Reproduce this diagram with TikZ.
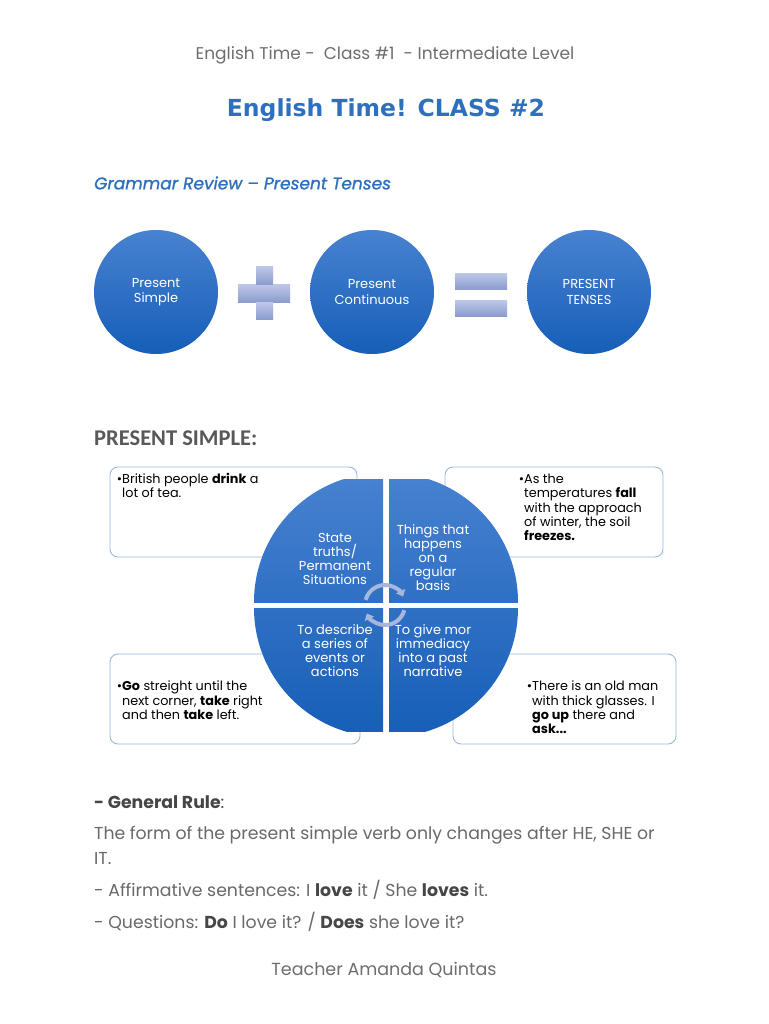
\documentclass[tikz,border=0pt]{standalone}
\usepackage{fontspec}
\setmainfont{Poppins}
\newfontfamily\titlefont{DejaVu Sans}
\newfontfamily\calib{Carlito}
\newfontfamily\subfont{Poppins}[FakeBold=1.2]
\usetikzlibrary{arrows.meta}
\definecolor{hdrgray}{RGB}{110,110,110}
\definecolor{titleblue}{RGB}{46,112,190}
\definecolor{circtop}{RGB}{72,130,208}
\definecolor{circbot}{RGB}{22,94,184}
\definecolor{signtop}{RGB}{190,200,232}
\definecolor{signbot}{RGB}{140,156,206}
\definecolor{boxblue}{RGB}{150,185,228}
\definecolor{arcblue}{RGB}{168,182,220}
\definecolor{bodygray}{RGB}{105,105,105}
\definecolor{darkgray}{RGB}{70,70,70}
\definecolor{headgray}{RGB}{89,89,89}
\tikzset{
  bigcirc/.style={circle, minimum size=124pt, inner sep=0pt, top color=circtop, bottom color=circbot, text=white, align=center, font=\fontsize{13}{15.5}\selectfont},
  signbar/.style={top color=signtop, bottom color=signbot, draw=none},
  exbox/.style={draw=boxblue, line width=0.9pt, rounded corners=8pt, fill=white},
  extext/.style={anchor=north west, inner sep=0pt, align=left, font=\fontsize{12.8}{14.3}\selectfont, text=black},
  quadtext/.style={inner sep=0pt, align=center, text=white, font=\fontsize{13}{14}\selectfont},
  cyclearc/.style={draw=arcblue, line width=4pt, -{Triangle[width=10pt,length=6pt]}},
  bodytext/.style={anchor=base west, inner sep=0pt, text=bodygray, font=\fontsize{17.3}{20}\selectfont},
}
\begin{document}
\begin{tikzpicture}[x=1pt,y=-1pt]
\useasboundingbox (0,0) rectangle (768,1024);
\fill[white] (0,0) rectangle (768,1024);

% header and titles
\node[text=hdrgray, font=\fontsize{17}{20}\selectfont] (hdr) at (385,55) {English Time -\ \ Class \#1\ \ - Intermediate Level};
\node[text=titleblue, font=\titlefont\bfseries\fontsize{23.5}{28}\selectfont] (title) at (386,110) {English Time! CLASS \#2};
\node[anchor=west, inner sep=0pt, text=titleblue, font=\subfont\itshape\fontsize{17}{20}\selectfont] (sub) at (94,183) {Grammar Review – Present Tenses};

% equation row
\node[bigcirc] (ps) at (156,292) {Present\\Simple};
\node[bigcirc] (pc) at (372,292) {Present\\Continuous};
\node[bigcirc] (pt) at (589,292) {PRESENT\\TENSES};
\shade[signbar] (238,284) rectangle (290,302);
\shade[signbar] (256,266) rectangle (273,284);
\shade[signbar] (256,302) rectangle (273,319);
\shade[signbar] (455,273) rectangle (507,289);
\shade[signbar] (455,300) rectangle (507,316);

% section heading
\node[anchor=west, inner sep=0pt, text=headgray, font=\calib\bfseries\fontsize{22.5}{26}\selectfont] (psh) at (94,438) {PRESENT SIMPLE:};

% example boxes
\draw[exbox] (110,467) rectangle (357,557);
\draw[exbox] (445,467) rectangle (663,557);
\draw[exbox] (110,654) rectangle (360,744);
\draw[exbox] (453,654) rectangle (676,744);

% quadrant circle
\begin{scope}
  \clip (0,479) rectangle (383,602);
  \shade[top color=circtop, bottom color=circbot] (383,602) circle[radius=129];
\end{scope}
\begin{scope}
  \clip (389,479) rectangle (768,602);
  \shade[top color=circtop, bottom color=circbot] (389,602) circle[radius=129];
\end{scope}
\begin{scope}
  \clip (0,608) rectangle (383,731);
  \shade[top color=circtop, bottom color=circbot] (383,608) circle[radius=129];
\end{scope}
\begin{scope}
  \clip (389,608) rectangle (768,731);
  \shade[top color=circtop, bottom color=circbot] (389,608) circle[radius=129];
\end{scope}

% cycle arrows
\draw[cyclearc] (385,605) ++(-165:20) arc[start angle=-165, end angle=-25, radius=20];
\draw[cyclearc] (385,605) ++(15:20) arc[start angle=15, end angle=155, radius=20];

% quadrant texts
\node[quadtext] (q1) at (335,559) {State\\truths/\\Permanent\\Situations};
\node[quadtext] (q2) at (433,558) {Things that\\happens\\on a\\regular\\basis};
\node[quadtext] (q3) at (335,651) {To describe\\a series of\\events or\\actions};
\node[quadtext] (q4) at (433,651) {To give mor\\immediacy\\into a past\\narrative};

% example texts
\node[extext] (e1) at (122,473) {\llap{•}British people \textbf{drink} a\\lot of tea.};
\node[extext] (e2) at (524,474) {\llap{•}As the\\temperatures \textbf{fall}\\with the approach\\of winter, the soil\\\textbf{freezes.}};
\node[extext] (e3) at (122,681) {\llap{•}\textbf{Go} streight until the\\next corner, \textbf{take} right\\and then \textbf{take} left.};
\node[extext] (e4) at (532,681) {\llap{•}There is an old man\\with thick glasses. I\\\textbf{go up} there and\\\textbf{ask...}};

% general rule
\node[bodytext, text=darkgray] (gr) at (94,808) {\textbf{- General Rule}:};
\node[bodytext] (b1) at (94,839) {The form of the present simple verb only changes after HE, SHE or};
\node[bodytext] (b2) at (94,864) {IT.};
\node[bodytext] (b3) at (94,896) {- Affirmative sentences: I \textcolor{darkgray}{\textbf{love}} it / She \textcolor{darkgray}{\textbf{loves}} it.};
\node[bodytext] (b4) at (94,928) {- Questions: \textcolor{darkgray}{\textbf{Do}} I love it? / \textcolor{darkgray}{\textbf{Does}} she love it?};
\node[text=hdrgray, font=\fontsize{17.5}{20}\selectfont] (foot) at (384,970) {Teacher Amanda Quintas};
\end{tikzpicture}
\end{document}
